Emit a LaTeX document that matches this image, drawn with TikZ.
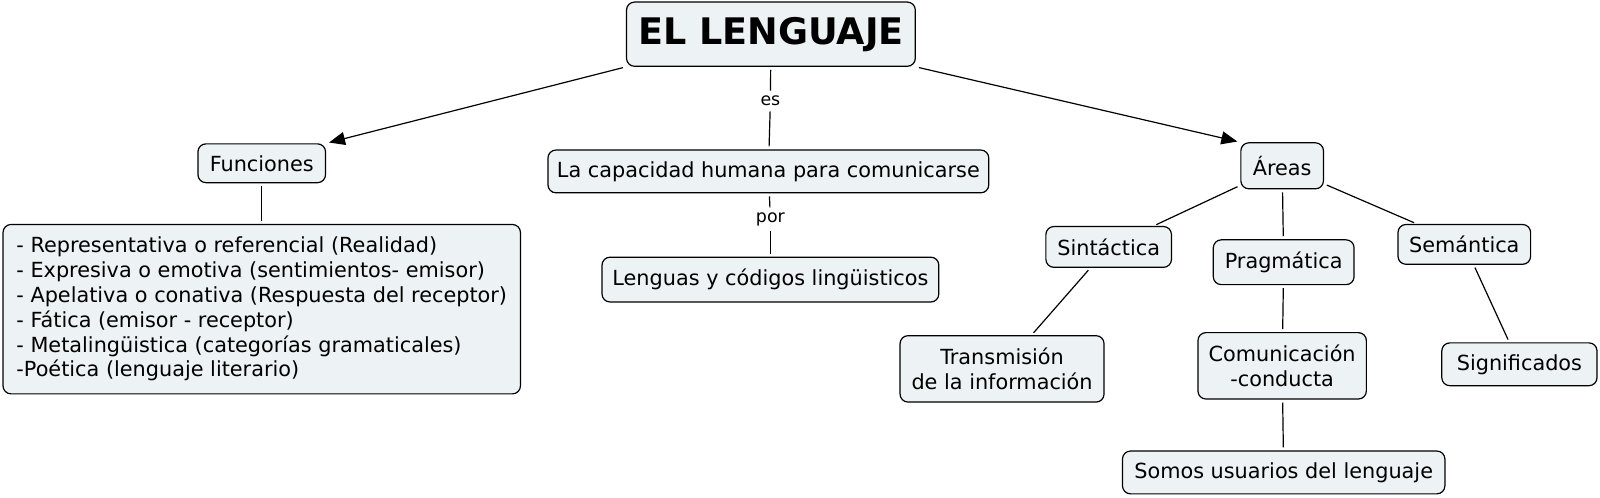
\documentclass[tikz,border=0pt]{standalone}
\usepackage{fontspec}
\setmainfont{DejaVu Sans}
\usetikzlibrary{arrows.meta}
\definecolor{cmapfill}{RGB}{237,243,245}
\tikzset{
  concept/.style={draw, line width=0.6pt, rounded corners=4pt, fill=cmapfill,
    inner xsep=3pt, inner ysep=1pt, align=center, font=\fontsize{10.4}{12.4}\selectfont},
  linkword/.style={inner sep=1pt, font=\fontsize{8.7}{10}\selectfont},
  link/.style={line width=0.6pt, shorten <=1.5pt, shorten >=1.5pt},
  arrowlink/.style={link, -{Triangle[length=8pt,width=6.5pt]}}
}
\begin{document}
\begin{tikzpicture}[x=0.5102pt, y=-0.5102pt]
  \useasboundingbox (0,0) rectangle (1568,488);

  \node [concept, minimum width=144.4pt, minimum height=32.1pt, font=\fontsize{18.3}{20}\selectfont\bfseries] (lenguaje) at (755.5, 33.5) {EL LENGUAJE};

  \node [concept, minimum width=63.8pt, minimum height=19.4pt] (funciones) at (256.5, 160) {Funciones};
  \node [concept, minimum width=258.7pt, minimum height=84.7pt, align=left] (lista) at (256.5, 303)
    {- Representativa o referencial (Realidad)\\
     - Expresiva o emotiva (sentimientos- emisor)\\
     - Apelativa o conativa (Respuesta del receptor)\\
     - Fática (emisor - receptor)\\
     - Metalingüistica (categorías gramaticales)\\
     -Poética (lenguaje literario)};

  \node [linkword] (es) at (755, 99) {es};
  \node [concept, minimum width=220.4pt, minimum height=21.4pt] (capacidad) at (753, 168) {La capacidad humana para comunicarse};
  \node [linkword] (por) at (755, 215) {por};
  \node [concept, minimum width=168.4pt, minimum height=22.4pt] (lenguas) at (755, 274) {Lenguas y códigos lingüisticos};

  \node [concept, minimum width=41.3pt, minimum height=23pt] (areas) at (1256.5, 162.5) {Áreas};
  \node [concept, minimum width=62.8pt, minimum height=20.4pt] (sintactica) at (1086.5, 242) {Sintáctica};
  \node [concept, minimum width=70.4pt, minimum height=22.4pt] (pragmatica) at (1258, 257) {Pragmática};
  \node [concept, minimum width=66.3pt, minimum height=19.9pt] (semantica) at (1435, 239.5) {Semántica};
  \node [concept, minimum width=102pt, minimum height=33.2pt] (transmision) at (982, 361.5) {Transmisión\\de la información};
  \node [concept, minimum width=84.2pt, minimum height=33.2pt] (comunicacion) at (1256.5, 358.5) {Comunicación\\-conducta};
  \node [concept, minimum width=161.2pt, minimum height=21.4pt] (somos) at (1258, 463) {Somos usuarios del lenguaje};
  \node [concept, minimum width=77.6pt, minimum height=21.4pt] (significados) at (1489, 357) {Significados};

  \draw [arrowlink] (lenguaje.south west) -- (funciones.north east);
  \draw [arrowlink] (lenguaje.south east) -- (areas.north west);
  \draw [link] (lenguaje) -- (es);
  \draw [link] (es) -- (capacidad);
  \draw [link] (capacidad) -- (por);
  \draw [link] (por) -- (lenguas);
  \draw [link] (funciones) -- (lista);
  \draw [link] (areas) -- (sintactica);
  \draw [link] (areas) -- (pragmatica);
  \draw [link] (areas) -- (semantica);
  \draw [link] (sintactica) -- (transmision);
  \draw [link] (pragmatica) -- (comunicacion);
  \draw [link] (semantica) -- (significados);
  \draw [link] (comunicacion) -- (somos);
\end{tikzpicture}
\end{document}
